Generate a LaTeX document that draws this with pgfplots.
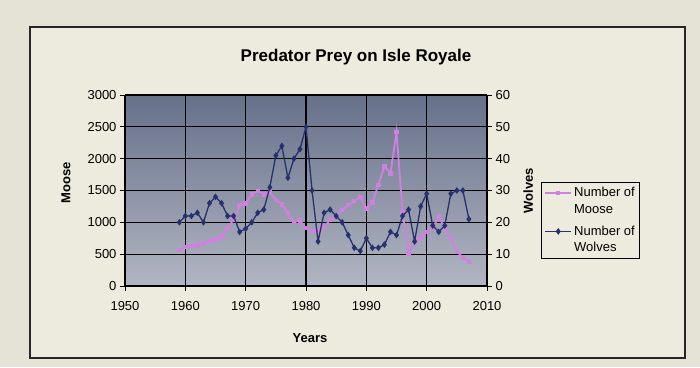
\documentclass[border=0pt]{standalone}
\usepackage{pgfplots}
\pgfplotsset{compat=1.18}
\usepackage{fontspec}
\setmainfont{Liberation Sans}
\definecolor{paper}{HTML}{E4E3D6}
\definecolor{chartbg}{HTML}{ECEBDE}
\definecolor{plottop}{HTML}{66708A}
\definecolor{plotbot}{HTML}{B2B6C2}
\definecolor{moose}{HTML}{D37FE2}
\definecolor{wolf}{HTML}{27316C}

\pgfplotstableread{
year moose
1959 563
1960 610
1961 628
1962 639
1963 663
1964 707
1965 733
1966 765
1967 912
1968 1042
1969 1268
1970 1295
1971 1439
1972 1493
1973 1435
1974 1467
1975 1355
1976 1282
1977 1143
1978 1001
1979 1028
1980 910
1981 863
1982 872
1983 932
1984 1038
1985 1115
1986 1192
1987 1268
1988 1335
1989 1397
1990 1216
1991 1313
1992 1590
1993 1879
1994 1770
1995 2422
1996 1163
1997 500
1998 699
1999 750
2000 850
2001 900
2002 1100
2003 900
2004 750
2005 540
2006 450
2007 385
}\moosetable

\pgfplotstableread{
year wolves
1959 20
1960 22
1961 22
1962 23
1963 20
1964 26
1965 28
1966 26
1967 22
1968 22
1969 17
1970 18
1971 20
1972 23
1973 24
1974 31
1975 41
1976 44
1977 34
1978 40
1979 43
1980 50
1981 30
1982 14
1983 23
1984 24
1985 22
1986 20
1987 16
1988 12
1989 11
1990 15
1991 12
1992 12
1993 13
1994 17
1995 16
1996 22
1997 24
1998 14
1999 25
2000 29
2001 19
2002 17
2003 19
2004 29
2005 30
2006 30
2007 21
}\wolftable

\begin{document}
\begin{tikzpicture}
\fill[paper] (0pt,0pt) rectangle (700pt,367pt);
\filldraw[fill=chartbg, draw=black!85, line width=1.2pt] (30pt,9pt) rectangle (685pt,340pt);
\node[font=\bfseries\fontsize{17}{20}\selectfont] at (356pt,310pt) {Predator Prey on Isle Royale};

\pgfplotsset{
  common/.style={
    at={(125pt,81pt)}, anchor=south west,
    scale only axis, width=362pt, height=191pt,
    xmin=1950, xmax=2010,
    xtick={1950,1960,...,2010},
    axis line style={black, line width=1pt},
    tick style={black, line width=1pt},
    tick align=outside, major tick length=5pt,
    ticklabel style={font=\fontsize{13}{15}\selectfont},
    /pgf/number format/assume math mode=true,
    /pgf/number format/1000 sep={},
    label style={font=\bfseries\fontsize{13}{15}\selectfont},
    legend image code/.code={\draw[mark repeat=2,mark phase=2,##1] plot coordinates {(0pt,8pt)(13pt,8pt)(26pt,8pt)};},
  }
}

\begin{axis}[common,
  ymin=0, ymax=3000, ytick={0,500,...,3000},
  axis x line*=bottom, axis y line*=left,
  grid=major, grid style={black, line width=1.1pt},
  axis background/.style={top color=plottop, bottom color=plotbot},
  xticklabel style={yshift=-7pt},
  ylabel={Moose}, xlabel={Years},
  ylabel style={at={(axis description cs:-0.163,0.54)}, anchor=center},
  xlabel style={at={(axis description cs:0.511,-0.272)}, anchor=center},
]
\addplot[moose, line width=1.8pt, mark=square*, mark size=1.3pt, mark options={solid}] table[x=year, y=moose] {\moosetable};
\end{axis}

\begin{axis}[common,
  ymin=0, ymax=60, ytick={0,10,...,60},
  axis x line=none, axis y line*=right,
  ylabel={Wolves},
  ylabel style={at={(axis description cs:1.114,0.50)}, anchor=center},
  legend style={at={(axis description cs:1.149,0.545)}, anchor=north west,
    draw=black, line width=0.8pt, fill=chartbg, font=\fontsize{13}{16.5}\selectfont,
    cells={align=left, anchor=west}, inner sep=3pt, row sep=7pt},
]
\addlegendimage{moose, line width=1.8pt, mark=square*, mark size=1.3pt}
\addlegendentry{Number of\\Moose}
\addplot[wolf, line width=1.3pt, mark=diamond*, mark size=2.3pt] table[x=year, y=wolves] {\wolftable};
\addlegendentry{Number of\\Wolves}
\end{axis}
\end{tikzpicture}
\end{document}
